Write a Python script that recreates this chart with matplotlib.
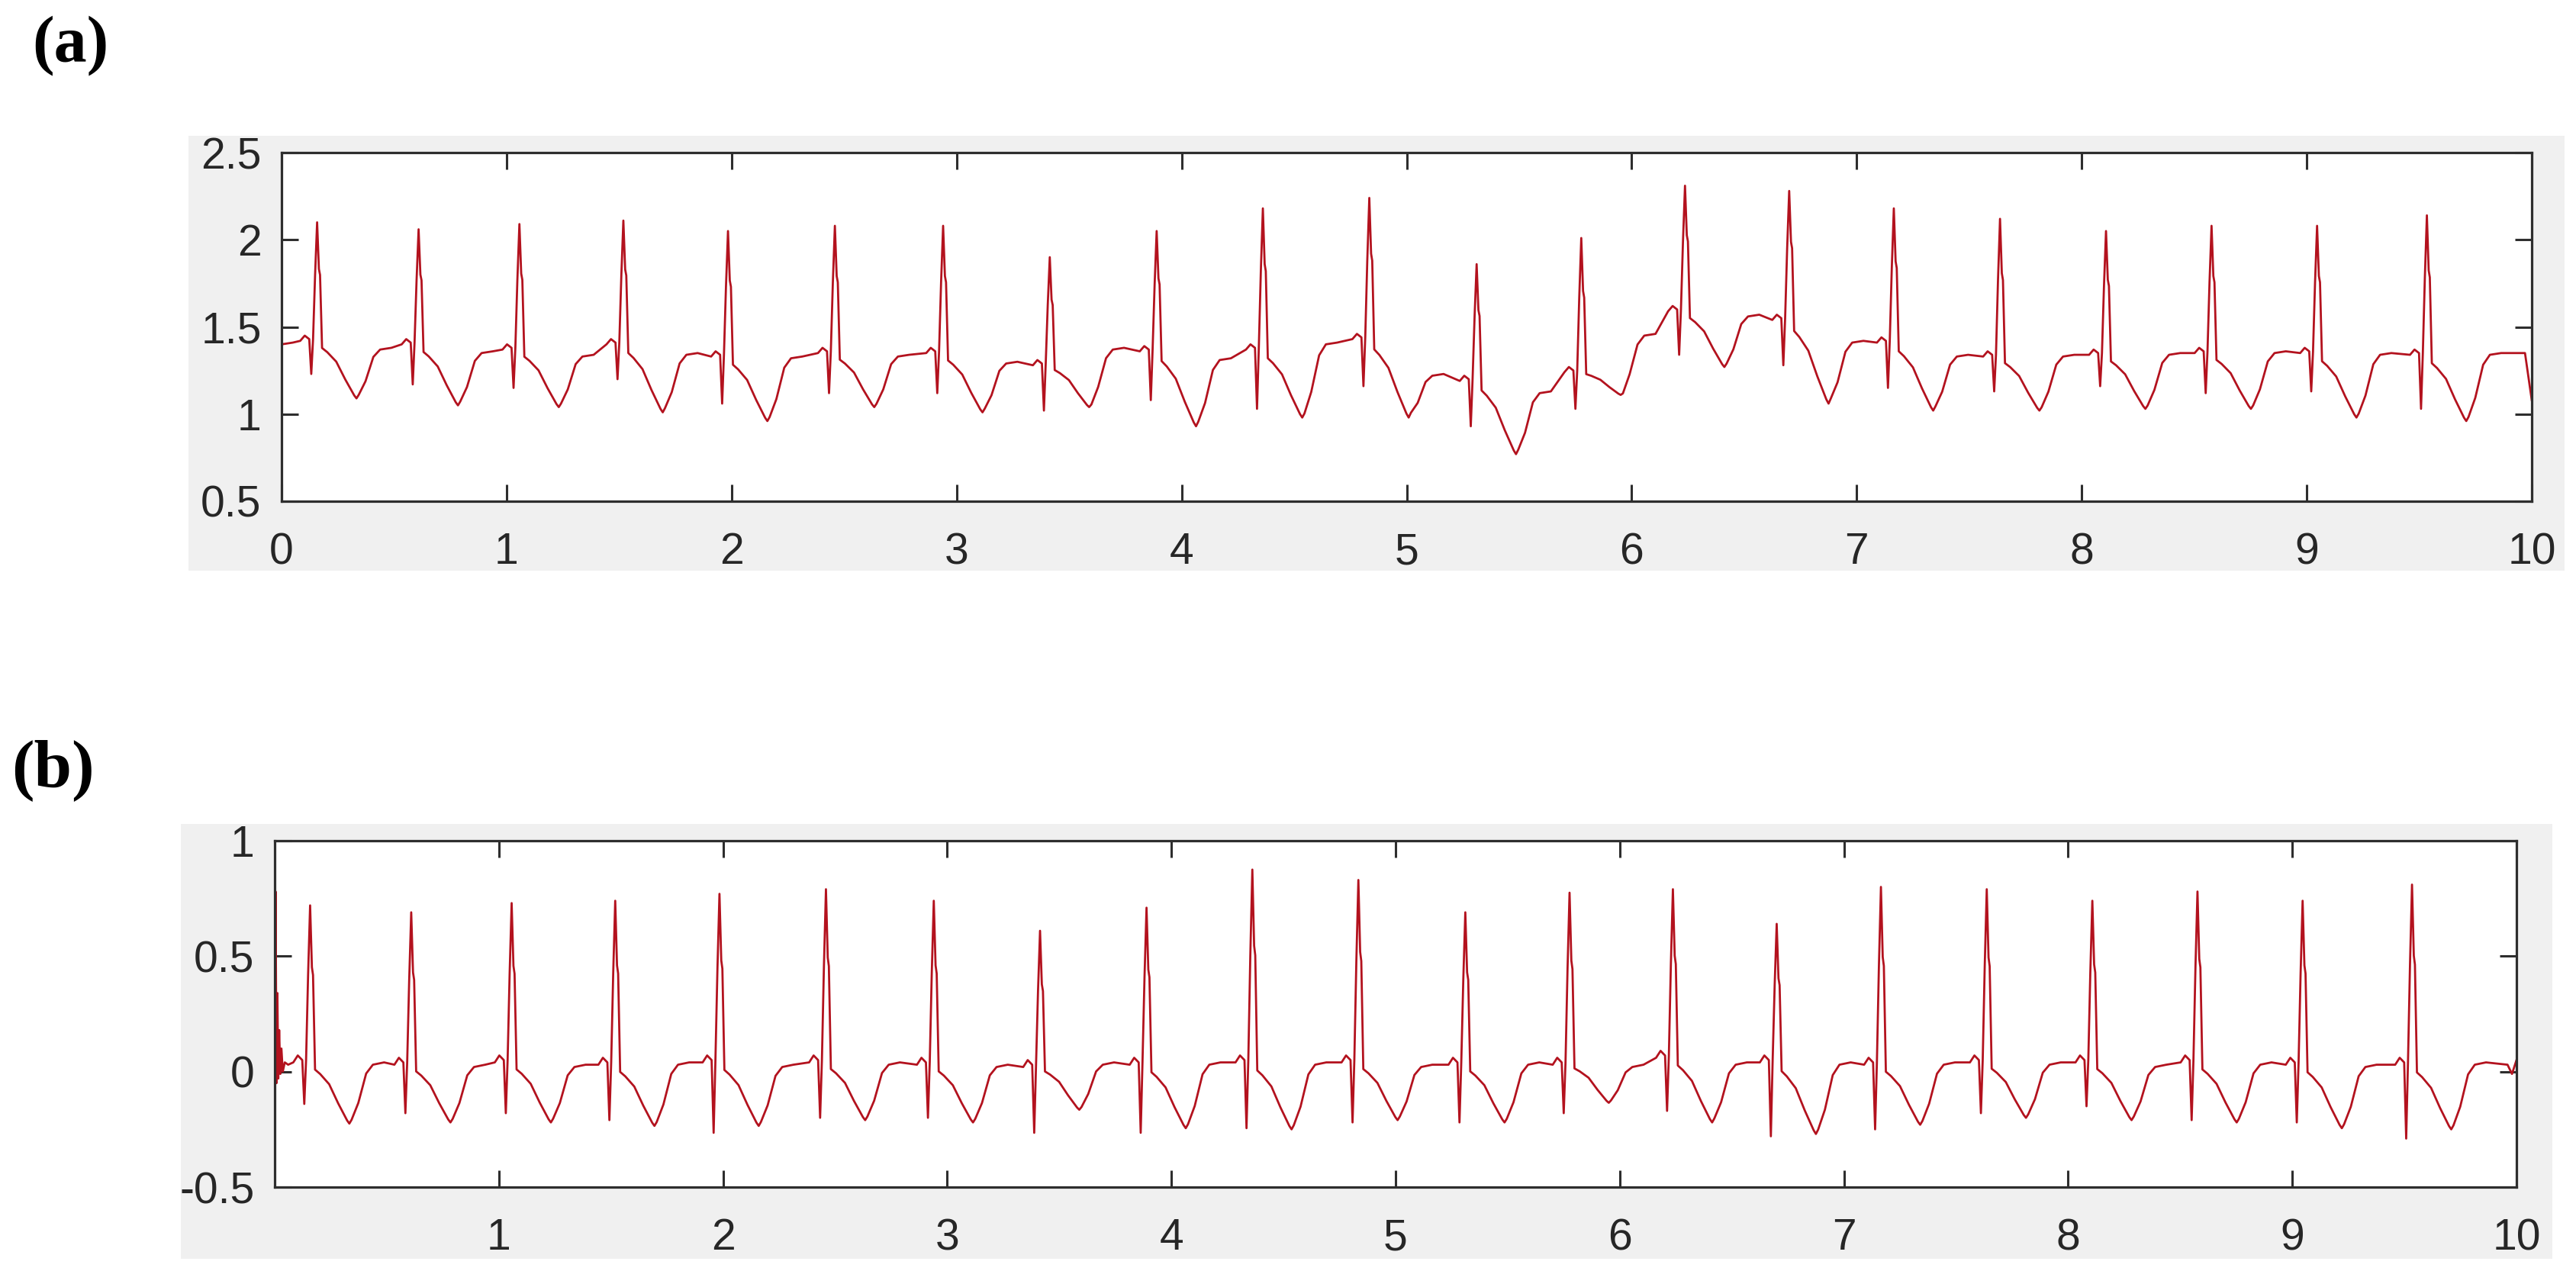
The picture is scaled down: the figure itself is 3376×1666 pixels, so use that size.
import matplotlib
matplotlib.use("Agg")
import matplotlib.pyplot as plt
from matplotlib.patches import Rectangle
import numpy as np

# ---------------- data ----------------
# R-peak times (s), shared by both records
beat_times = [0.158, 0.609, 1.057, 1.519, 1.984, 2.459, 2.940, 3.414, 3.889, 4.361, 4.834,
              5.311, 5.776, 6.237, 6.700, 7.165, 7.637, 8.108, 8.577, 9.046, 9.534]

# (a) raw ECG
raw_r    = [2.10, 2.06, 2.09, 2.11, 2.05, 2.08, 2.08, 1.90, 2.05, 2.18, 2.24,
            1.86, 2.01, 2.31, 2.28, 2.18, 2.12, 2.05, 2.08, 2.08, 2.14]
raw_q    = [1.23, 1.17, 1.15, 1.20, 1.06, 1.12, 1.12, 1.02, 1.08, 1.03, 1.16,
            0.93, 1.03, 1.34, 1.28, 1.15, 1.13, 1.16, 1.12, 1.13, 1.03]
raw_t    = [1.09, 1.05, 1.04, 1.01, 0.96, 1.04, 1.01, 1.04, 0.93, 0.98, 0.98,
            0.77, 1.11, 1.27, 1.06, 1.02, 1.02, 1.03, 1.03, 0.98, 0.96]
raw_pre  = [1.43, 1.41, 1.38, 1.41, 1.34, 1.36, 1.36, 1.29, 1.37, 1.38, 1.44,
            1.20, 1.25, 1.60, 1.55, 1.42, 1.34, 1.35, 1.36, 1.36, 1.35]
raw_post = [1.37, 1.35, 1.33, 1.34, 1.32, 1.33, 1.29, 1.37, 1.31, 1.40, 1.22,
            1.12, 1.45, 1.56, 1.41, 1.33, 1.33, 1.34, 1.35, 1.34, 1.34]
raw_head_t = [0.0, 0.05]
raw_head_v = [1.40, 1.41]
raw_tail_t = [9.97, 10.0]
raw_tail_v = [1.35, 1.08]

# (b) filtered ECG
filt_r    = [0.72, 0.69, 0.73, 0.74, 0.77, 0.79, 0.74, 0.61, 0.71, 0.875, 0.83,
             0.69, 0.775, 0.79, 0.64, 0.80, 0.79, 0.74, 0.78, 0.74, 0.81]
filt_q    = [-0.14, -0.18, -0.18, -0.21, -0.265, -0.20, -0.20, -0.265, -0.265, -0.245, -0.22,
             -0.22, -0.18, -0.17, -0.28, -0.25, -0.18, -0.15, -0.21, -0.22, -0.29]
filt_t    = [-0.225, -0.22, -0.22, -0.235, -0.235, -0.21, -0.22, -0.165, -0.245, -0.25, -0.21,
             -0.22, -0.135, -0.22, -0.27, -0.23, -0.20, -0.21, -0.22, -0.245, -0.25]
filt_pre  = [0.05, 0.04, 0.05, 0.04, 0.05, 0.05, 0.04, 0.03, 0.04, 0.05, 0.05,
             0.04, 0.04, 0.07, 0.05, 0.04, 0.05, 0.05, 0.05, 0.04, 0.04]
filt_post = [0.03, 0.02, 0.02, 0.03, 0.02, 0.03, 0.02, 0.03, 0.03, 0.03, 0.02,
             0.03, 0.02, 0.03, 0.03, 0.03, 0.03, 0.02, 0.03, 0.02, 0.03]
filt_head_t = [0.0, 0.004, 0.008, 0.012, 0.016, 0.020, 0.025, 0.030, 0.036, 0.045, 0.060]
filt_head_v = [0.0, 0.78, -0.05, 0.34, -0.03, 0.18, -0.01, 0.10, 0.0, 0.04, 0.03]
filt_tail_t = [9.96, 9.98, 10.0]
filt_tail_v = [0.03, -0.01, 0.05]

x_ticks_a = [0, 1, 2, 3, 4, 5, 6, 7, 8, 9, 10]
y_ticks_a = [0.5, 1, 1.5, 2, 2.5]
x_ticks_b = [1, 2, 3, 4, 5, 6, 7, 8, 9, 10]
y_ticks_b = [-0.5, 0, 0.5, 1]


def beat_polyline(beats, pre, q, r, tr, post, head_t, head_v, tail_t, tail_v):
    xs = list(head_t)
    ys = list(head_v)
    for k, b in enumerate(beats):
        p = pre[k]
        h = r[k] - p
        d = p - tr[k]
        s = post[k]
        shape = [(-0.075, p - 0.01), (-0.055, p + 0.02), (-0.035, p),
                 (-0.026, q[k]), (-0.018, p), (-0.009, p + 0.55 * h), (0.0, r[k]),
                 (0.008, p + 0.6 * h), (0.013, p + 0.55 * h), (0.022, p - 0.15 * d),
                 (0.045, p - 0.22 * d), (0.085, p - 0.38 * d), (0.125, p - 0.68 * d),
                 (0.165, tr[k] + 0.05 * d), (0.175, tr[k]), (0.185, tr[k] + 0.06 * d),
                 (0.215, tr[k] + 0.35 * (s - tr[k])),
                 (0.25, tr[k] + 0.85 * (s - tr[k])), (0.28, s), (0.33, s + 0.01)]
        for dt, v in shape:
            xs.append(b + dt)
            ys.append(v)
    xs += list(tail_t)
    ys += list(tail_v)
    return np.array(xs), np.array(ys)


# ---------------- figure ----------------
plt.rcParams['font.family'] = ['Liberation Sans', 'DejaVu Sans']
W, H = 3376, 1666
fig = plt.figure(figsize=(W / 100, H / 100), dpi=100)
fig.patch.set_facecolor('white')

def fx(px):
    return px / W

def fy(py):
    return 1 - py / H

# gray MATLAB-style panels
for (x0, y0, x1, y1) in [(247, 178, 3361, 748), (237, 1080, 3345, 1650)]:
    fig.patches.append(Rectangle((fx(x0), fy(y1)), fx(x1) - fx(x0), fy(y0) - fy(y1),
                                 transform=fig.transFigure, facecolor='#F0F0F0',
                                 edgecolor='none', zorder=-5))

ax_a = fig.add_axes([fx(369), fy(657), fx(3318) - fx(369), fy(200) - fy(657)])
ax_b = fig.add_axes([fx(360), fy(1556), fx(3298) - fx(360), fy(1102) - fy(1556)])

line_color = '#B3121E'
xa, ya = beat_polyline(beat_times, raw_pre, raw_q, raw_r, raw_t, raw_post,
                       raw_head_t, raw_head_v, raw_tail_t, raw_tail_v)
xb, yb = beat_polyline(beat_times, filt_pre, filt_q, filt_r, filt_t, filt_post,
                       filt_head_t, filt_head_v, filt_tail_t, filt_tail_v)
ax_a.plot(xa, ya, color=line_color, lw=2.0)
ax_b.plot(xb, yb, color=line_color, lw=2.0)

ax_a.set_xlim(0, 10)
ax_a.set_ylim(0.5, 2.5)
ax_a.set_xticks(x_ticks_a)
ax_a.set_xticklabels([str(v) for v in x_ticks_a])
ax_a.set_yticks(y_ticks_a)
ax_a.set_yticklabels(['0.5', '1', '1.5', '2', '2.5'])

ax_b.set_xlim(0, 10)
ax_b.set_ylim(-0.5, 1)
ax_b.set_xticks(x_ticks_b)
ax_b.set_xticklabels([str(v) for v in x_ticks_b])
ax_b.set_yticks(y_ticks_b)
ax_b.set_yticklabels(['-0.5', '0', '0.5', '1'])

for ax in (ax_a, ax_b):
    ax.set_facecolor('white')
    for sp in ax.spines.values():
        sp.set_color('#2E2E2E')
        sp.set_linewidth(2.3)
    ax.tick_params(axis='both', direction='in', length=16, width=2.2, color='#2E2E2E',
                   top=True, right=True, labelsize=41, labelcolor='#262626')
    ax.tick_params(axis='x', pad=29)
    ax.tick_params(axis='y', pad=19)

fig.text(fx(42), fy(60), '(a)', fontsize=62, fontweight='bold',
         family=['Liberation Serif', 'DejaVu Serif'], ha='left', va='center')
fig.text(fx(15), fy(1010), '(b)', fontsize=64, fontweight='bold',
         family=['Liberation Serif', 'DejaVu Serif'], ha='left', va='center')

fig.savefig('out.png', dpi=100, facecolor='white')
